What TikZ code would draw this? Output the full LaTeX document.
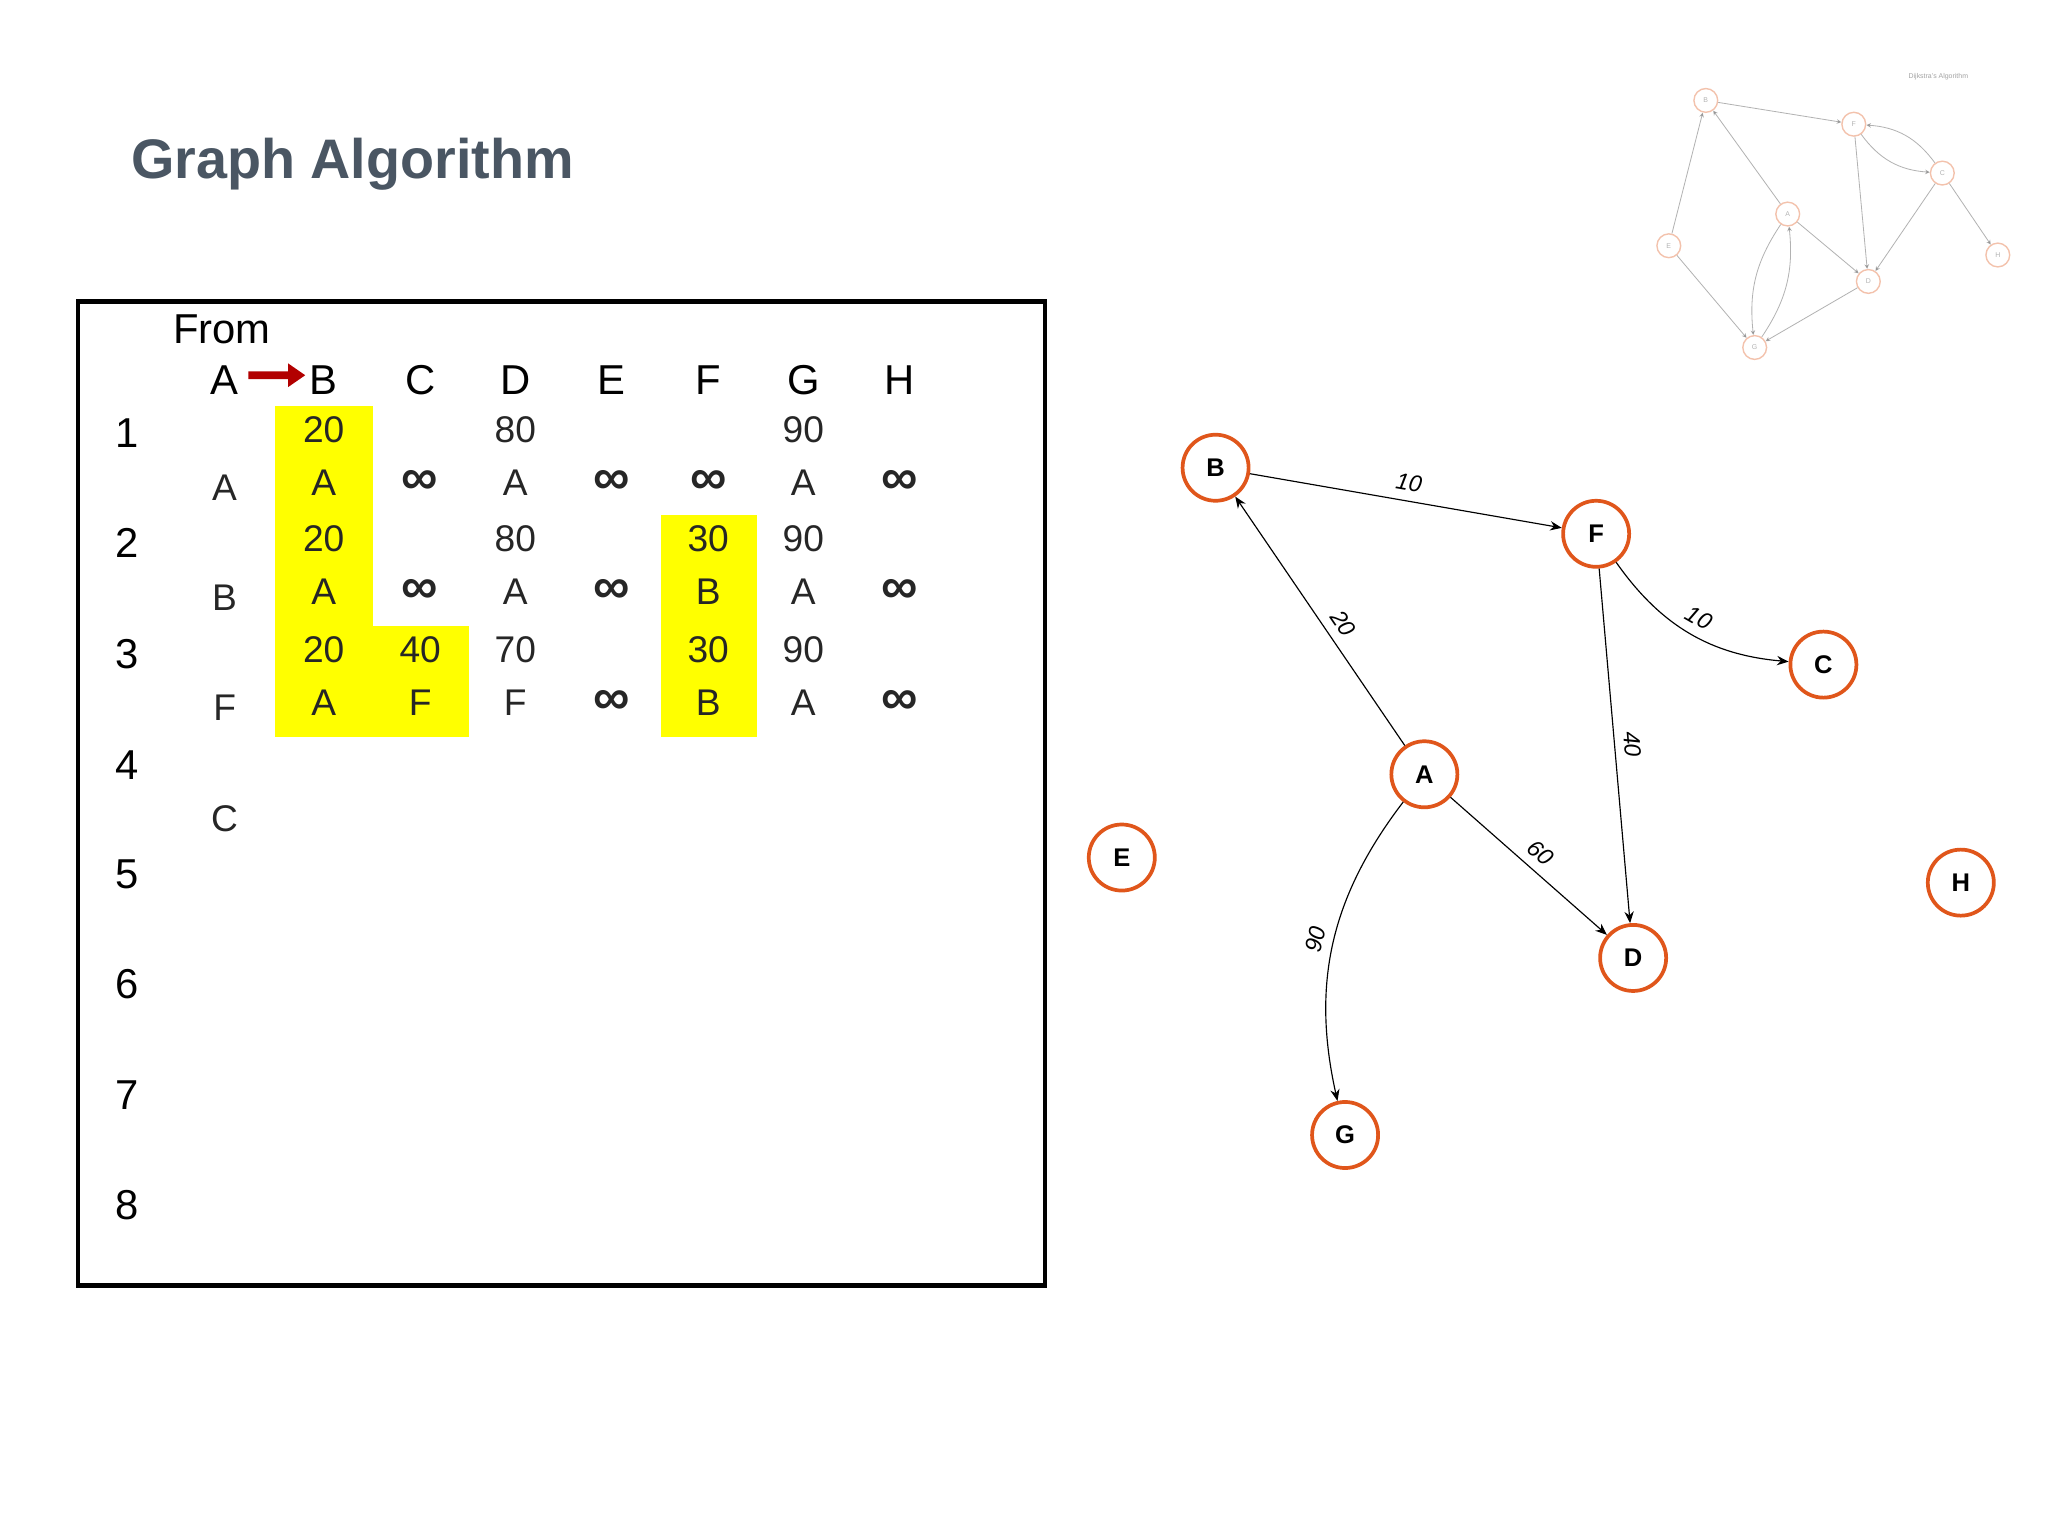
\documentclass[tikz,border=0pt]{standalone}
\usepackage{fontspec}
\setmainfont{Liberation Sans}
\usetikzlibrary{arrows.meta}
\definecolor{ttl}{HTML}{4A5663}
\definecolor{nodeor}{HTML}{E0561B}
\definecolor{hl}{HTML}{FFFF00}
\newcommand{\inff}{{\fontsize{22}{16}\selectfont\bfseries ∞}}
\begin{document}
\begin{tikzpicture}[x=0.02cm,y=-0.02cm,
  vert/.style={circle,draw=nodeor,line width=1.6pt,minimum size=1.0cm,inner sep=0pt,font=\fontsize{11}{11}\selectfont\bfseries},
  edge/.style={draw,line width=0.5pt,-{Stealth[length=5pt,width=4pt]}},
  elab/.style={font=\fontsize{10}{10}\selectfont\itshape,sloped,inner sep=4pt},
  cell/.style={font=\fontsize{16}{16}\selectfont,text=black!85},
  hdr/.style={font=\fontsize{18}{18}\selectfont},
  rown/.style={font=\fontsize{18}{18}\selectfont},
  tv/.style={circle,draw=nodeor!60,line width=0.6pt,minimum size=0.36cm,inner sep=0pt,font=\fontsize{3}{3}\selectfont,text=black!50},
  te/.style={draw=black!50,line width=0.35pt,-{Stealth[length=2pt,width=2pt]}}]
\useasboundingbox (0,0) rectangle (1550,1162);
\fill[white] (0,0) rectangle (1550,1162);
\node[anchor=west,font=\fontsize{24}{24}\selectfont\bfseries,text=ttl] (title) at (93,124) {Graph Algorithm};
% table
\fill[hl] (208,307) rectangle (282,558);
\fill[hl] (282,474) rectangle (355,558);
\fill[hl] (500,390) rectangle (573,558);
\draw[line width=2pt] (59,228) rectangle (791,973);
\node[hdr] (from) at (168,249) {From};
\foreach \l/\x in {A/170,B/245,C/318,D/390,E/463,F/536,G/608,H/681}
  \node[hdr] (h\l) at (\x,288) {\l};
\draw[draw=none,fill=red!70!black] (188,281) -- (218,281) -- (218,275) -- (231,284) -- (218,293) -- (218,287) -- (188,287) -- cycle;
\foreach \n/\y in {1/328,2/411,3/495,4/579,5/662,6/745,7/829,8/912}
  \node[rown] (r\n) at (96,\y) {\n};
\foreach \l/\y in {A/369,B/452,F/536,C/620}
  \node[cell] (rl\l) at (170,\y) {\l};
\foreach \x/\a/\b/\c/\d/\e/\f in {245/20/A/20/A/20/A,318//\inff//\inff/40/F,390/80/A/80/A/70/F,463//\inff//\inff//\inff,536//\inff/30/B/30/B,608/90/A/90/A/90/A,681//\inff//\inff//\inff}{
  \node[cell] at (\x,325) {\a};
  \node[cell] at (\x,365) {\b};
  \node[cell] at (\x,408) {\c};
  \node[cell] at (\x,448) {\d};
  \node[cell] at (\x,492) {\e};
  \node[cell] at (\x,532) {\f};
}
% main graph
\node[vert] (B) at (920,354) {B};
\node[vert] (F) at (1208,404) {F};
\node[vert] (C) at (1380,503) {C};
\node[vert] (A) at (1078,586) {A};
\node[vert] (E) at (849,649) {E};
\node[vert] (H) at (1484,668) {H};
\node[vert] (D) at (1236,725) {D};
\node[vert] (G) at (1018,859) {G};
\draw[edge] (B) -- node[elab,above] {10} (F);
\draw[edge] (A) -- node[elab,above,pos=0.45] {20} (B);
\draw[edge] (F) to[bend right=25] node[elab,above] {10} (C);
\draw[edge] (F) -- node[elab,above] {40} (D);
\draw[edge] (A) -- node[elab,above] {60} (D);
\draw[edge] (A) to[bend right=25] node[elab,above] {90} (G);
% thumbnail
\begin{scope}[opacity=0.6]
\node[font=\fontsize{3}{3}\selectfont,text=black!60] (tt) at (1467,58) {Dijkstra's Algorithm};
\node[tv] (tB) at (1291,76) {B};
\node[tv] (tF) at (1403,94) {F};
\node[tv] (tC) at (1470,131) {C};
\node[tv] (tA) at (1353,162) {A};
\node[tv] (tE) at (1263,186) {E};
\node[tv] (tD) at (1414,213) {D};
\node[tv] (tG) at (1328,263) {G};
\node[tv] (tH) at (1512,193) {H};
\draw[te] (tB) -- (tF);
\draw[te] (tE) -- (tB);
\draw[te] (tA) -- (tB);
\draw[te] (tF) to[bend right=25] (tC);
\draw[te] (tC) to[bend right=25] (tF);
\draw[te] (tF) -- (tD);
\draw[te] (tC) -- (tD);
\draw[te] (tC) -- (tH);
\draw[te] (tA) -- (tD);
\draw[te] (tA) to[bend right=20] (tG);
\draw[te] (tG) to[bend right=20] (tA);
\draw[te] (tE) -- (tG);
\draw[te] (tD) -- (tG);
\end{scope}
\end{tikzpicture}
\end{document}
